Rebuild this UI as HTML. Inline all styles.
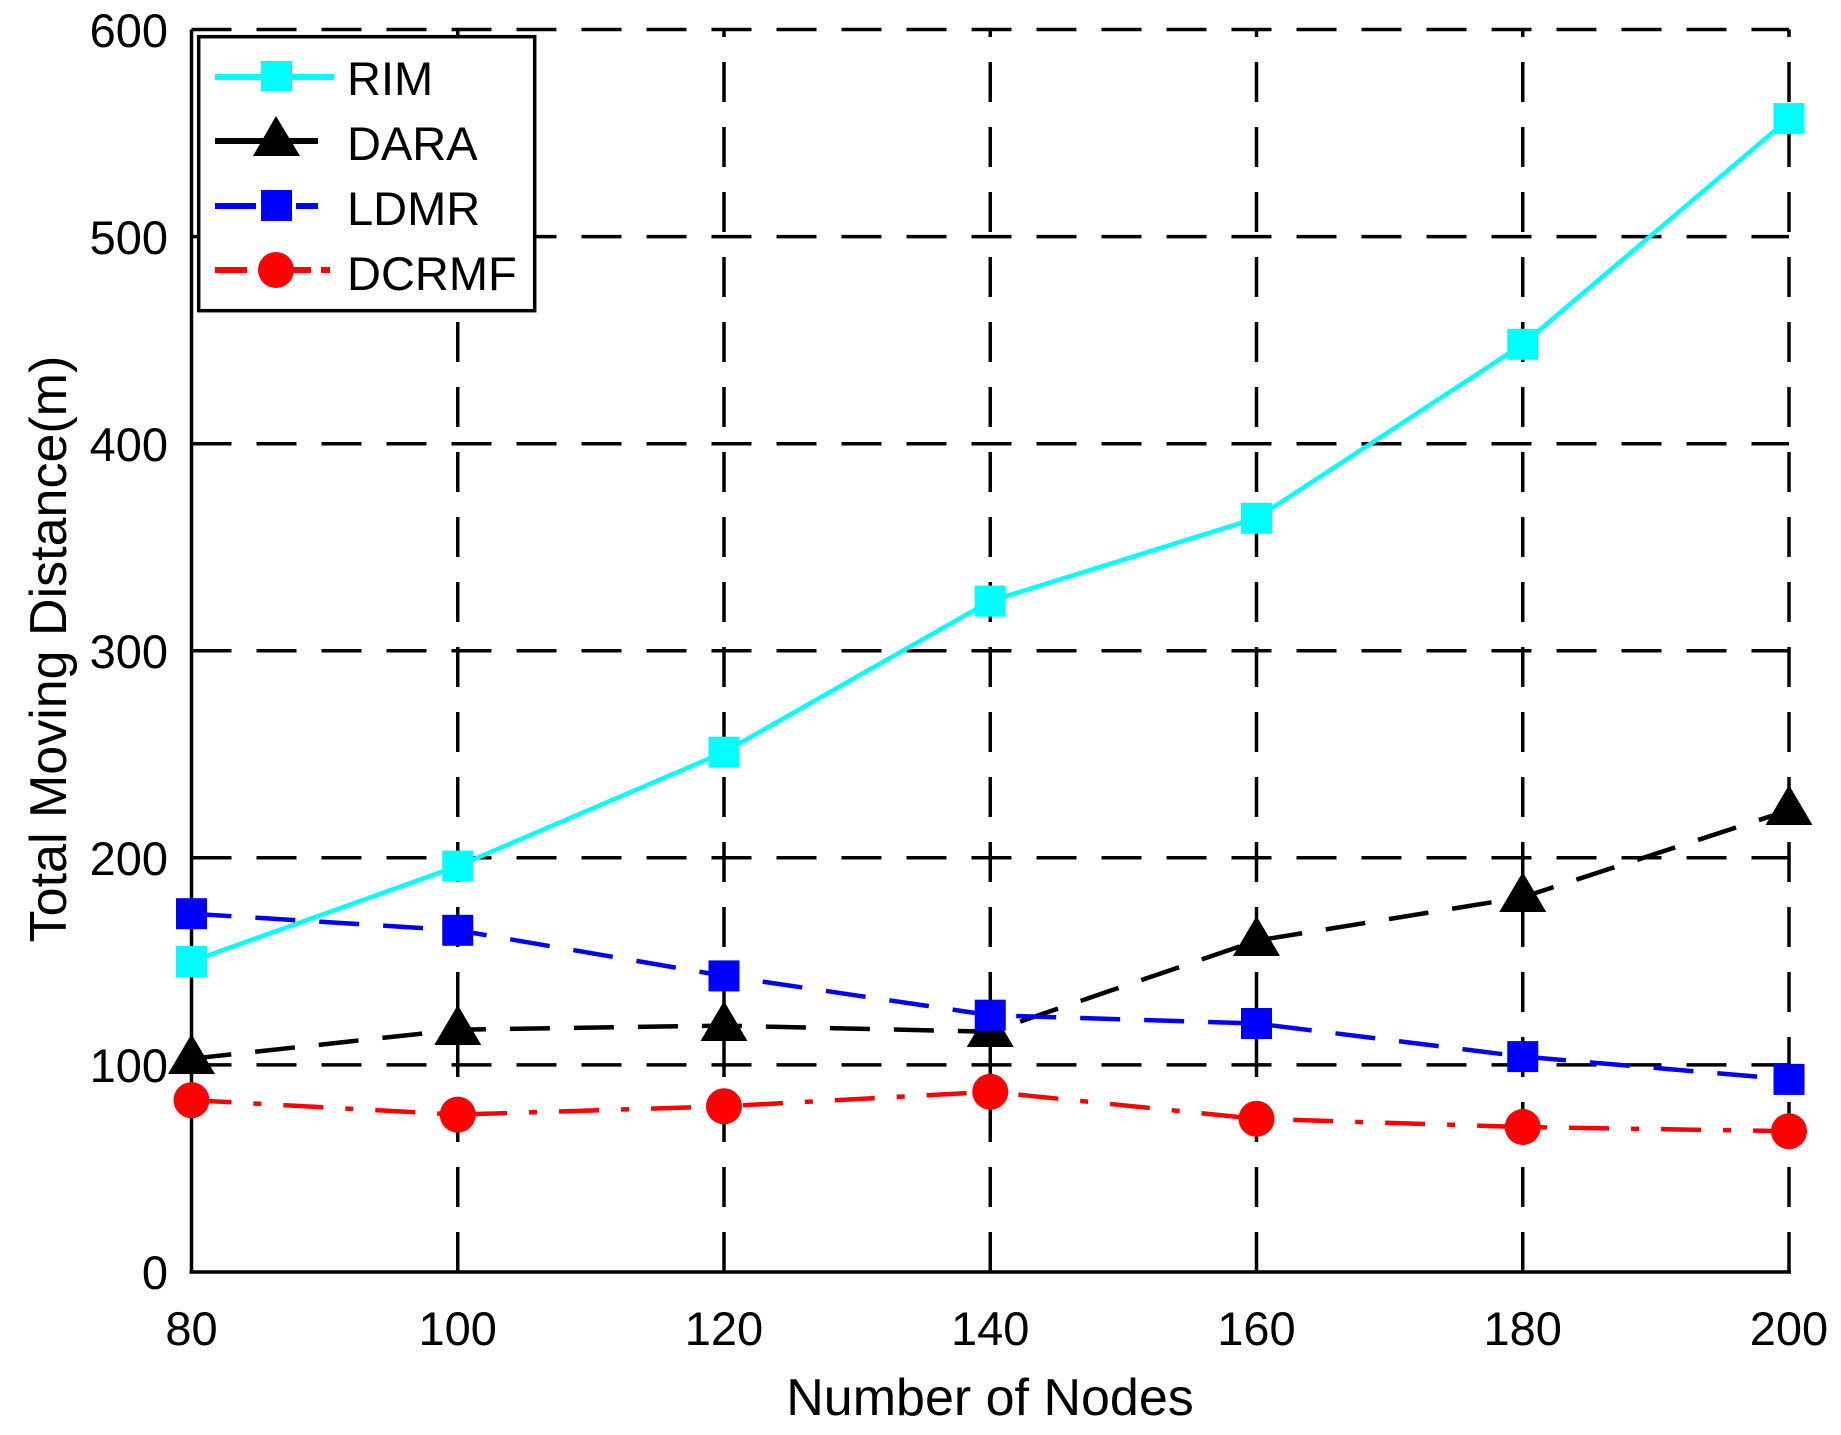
<!DOCTYPE html>
<html><head><meta charset="utf-8"><style>
html,body{margin:0;padding:0;background:#fff;}
svg{display:block;}
text{font-family:"Liberation Sans",Arial,sans-serif;fill:#000;}
</style></head><body>
<svg width="1841" height="1435" viewBox="0 0 1841 1435" xmlns="http://www.w3.org/2000/svg">
<rect width="1841" height="1435" fill="#fff"/>
<g stroke="#000" stroke-width="3.5" stroke-dasharray="40,25" fill="none">
  <line x1="191.5" y1="29.5" x2="1789" y2="29.5"/>
  <line x1="191.5" y1="236.6" x2="1789" y2="236.6"/>
  <line x1="191.5" y1="443.7" x2="1789" y2="443.7"/>
  <line x1="191.5" y1="650.8" x2="1789" y2="650.8"/>
  <line x1="191.5" y1="857.8" x2="1789" y2="857.8"/>
  <line x1="191.5" y1="1064.9" x2="1789" y2="1064.9"/>
  <line x1="457.75" y1="1272" x2="457.75" y2="29.5"/>
  <line x1="724" y1="1272" x2="724" y2="29.5"/>
  <line x1="990.25" y1="1272" x2="990.25" y2="29.5"/>
  <line x1="1256.5" y1="1272" x2="1256.5" y2="29.5"/>
  <line x1="1522.75" y1="1272" x2="1522.75" y2="29.5"/>
  <line x1="1789" y1="1272" x2="1789" y2="29.5"/>
</g>
<g stroke="#000" stroke-width="3.5" fill="none">
  <line x1="191.5" y1="29.5" x2="191.5" y2="1272"/>
  <line x1="189.5" y1="1272" x2="1791" y2="1272"/>
</g>
<g font-size="47" text-anchor="end">
  <text x="168" y="1289">0</text>
  <text x="168" y="1082">100</text>
  <text x="168" y="875">200</text>
  <text x="168" y="668">300</text>
  <text x="168" y="461">400</text>
  <text x="168" y="254">500</text>
  <text x="168" y="47">600</text>
</g>
<g font-size="47" text-anchor="middle">
  <text x="191.5" y="1345">80</text>
  <text x="457.75" y="1345">100</text>
  <text x="724" y="1345">120</text>
  <text x="990.25" y="1345">140</text>
  <text x="1256.5" y="1345">160</text>
  <text x="1522.75" y="1345">180</text>
  <text x="1789" y="1345">200</text>
</g>
<g font-size="52" text-anchor="middle">
  <text x="990" y="1415">Number of Nodes</text>
  <text x="0" y="0" transform="translate(66,649) rotate(-90)">Total Moving Distance(m)</text>
</g>
<polyline fill="none" stroke="#00ffff" stroke-width="4.5" points="191.5,961.4 457.75,866.1 724,752.2 990.25,601.1 1256.5,518.2 1522.75,344.3 1789,118.6"/>
<polyline fill="none" stroke="#000" stroke-width="4.5" stroke-dasharray="40,24" points="191.5,1058.7 457.75,1029.7 724,1025.6 990.25,1031.8 1256.5,940.7 1522.75,897.2 1789,810.2"/>
<polyline fill="none" stroke="#0000ff" stroke-width="4.5" stroke-dasharray="40,24" points="191.5,913.7 457.75,930.3 724,975.9 990.25,1015.2 1256.5,1023.5 1522.75,1056.6 1789,1079.4"/>
<polyline fill="none" stroke="#ff0000" stroke-width="4.5" stroke-dasharray="40,22,8,22" points="191.5,1100.1 457.75,1114.6 724,1106.3 990.25,1091.8 1256.5,1118.8 1522.75,1127.0 1789,1131.2"/>
<g fill="#00ffff">
  <rect x="176" y="946" width="31" height="31"/><rect x="442.25" y="850.6" width="31" height="31"/><rect x="708.5" y="736.7" width="31" height="31"/><rect x="974.75" y="585.6" width="31" height="31"/><rect x="1241" y="502.7" width="31" height="31"/><rect x="1507.25" y="328.8" width="31" height="31"/><rect x="1773.5" y="103.1" width="31" height="31"/>
</g>
<g fill="#000">
  <polygon points="191.5,1034 215,1074 168,1074"/>
  <polygon points="457.75,1005 481.25,1045 434.25,1045"/>
  <polygon points="724,1001 747.5,1041 700.5,1041"/>
  <polygon points="990.25,1007 1013.75,1047 966.75,1047"/>
  <polygon points="1256.5,916 1280,956 1233,956"/>
  <polygon points="1522.75,872 1546.25,912 1499.25,912"/>
  <polygon points="1789,785 1812.5,825 1765.5,825"/>
</g>
<g fill="#0000ff">
  <rect x="176" y="898.2" width="31" height="31"/><rect x="442.25" y="914.8" width="31" height="31"/><rect x="708.5" y="960.4" width="31" height="31"/><rect x="974.75" y="999.7" width="31" height="31"/><rect x="1241" y="1008" width="31" height="31"/><rect x="1507.25" y="1041.1" width="31" height="31"/><rect x="1773.5" y="1063.9" width="31" height="31"/>
</g>
<g fill="#ff0000">
  <circle cx="191.5" cy="1100.1" r="18"/><circle cx="457.75" cy="1114.6" r="18"/><circle cx="724" cy="1106.3" r="18"/><circle cx="990.25" cy="1091.8" r="18"/><circle cx="1256.5" cy="1118.8" r="18"/><circle cx="1522.75" cy="1127" r="18"/><circle cx="1789" cy="1131.2" r="18"/>
</g>
<rect x="198.7" y="36.7" width="336" height="274" fill="#fff" stroke="#000" stroke-width="3.5"/>
<line x1="215" y1="77" x2="334" y2="77" stroke="#00ffff" stroke-width="6"/>
<rect x="261" y="61" width="31" height="30" fill="#00ffff"/>
<line x1="215" y1="141" x2="318" y2="141" stroke="#000" stroke-width="6"/>
<polygon points="276,116 300,156 253,156" fill="#000"/>
<line x1="215" y1="206" x2="256" y2="206" stroke="#0000ff" stroke-width="6"/>
<line x1="296" y1="206" x2="318" y2="206" stroke="#0000ff" stroke-width="6"/>
<rect x="261" y="190" width="31" height="31" fill="#0000ff"/>
<line x1="215" y1="270" x2="247" y2="270" stroke="#ff0000" stroke-width="6"/>
<line x1="290" y1="270" x2="311" y2="270" stroke="#ff0000" stroke-width="6"/>
<line x1="321" y1="270" x2="330" y2="270" stroke="#ff0000" stroke-width="6"/>
<circle cx="276" cy="270" r="18" fill="#ff0000"/>
<g font-size="47">
  <text x="347" y="95">RIM</text>
  <text x="347" y="160">DARA</text>
  <text x="347" y="225">LDMR</text>
  <text x="347" y="290">DCRMF</text>
</g>
</svg>
</body></html>
